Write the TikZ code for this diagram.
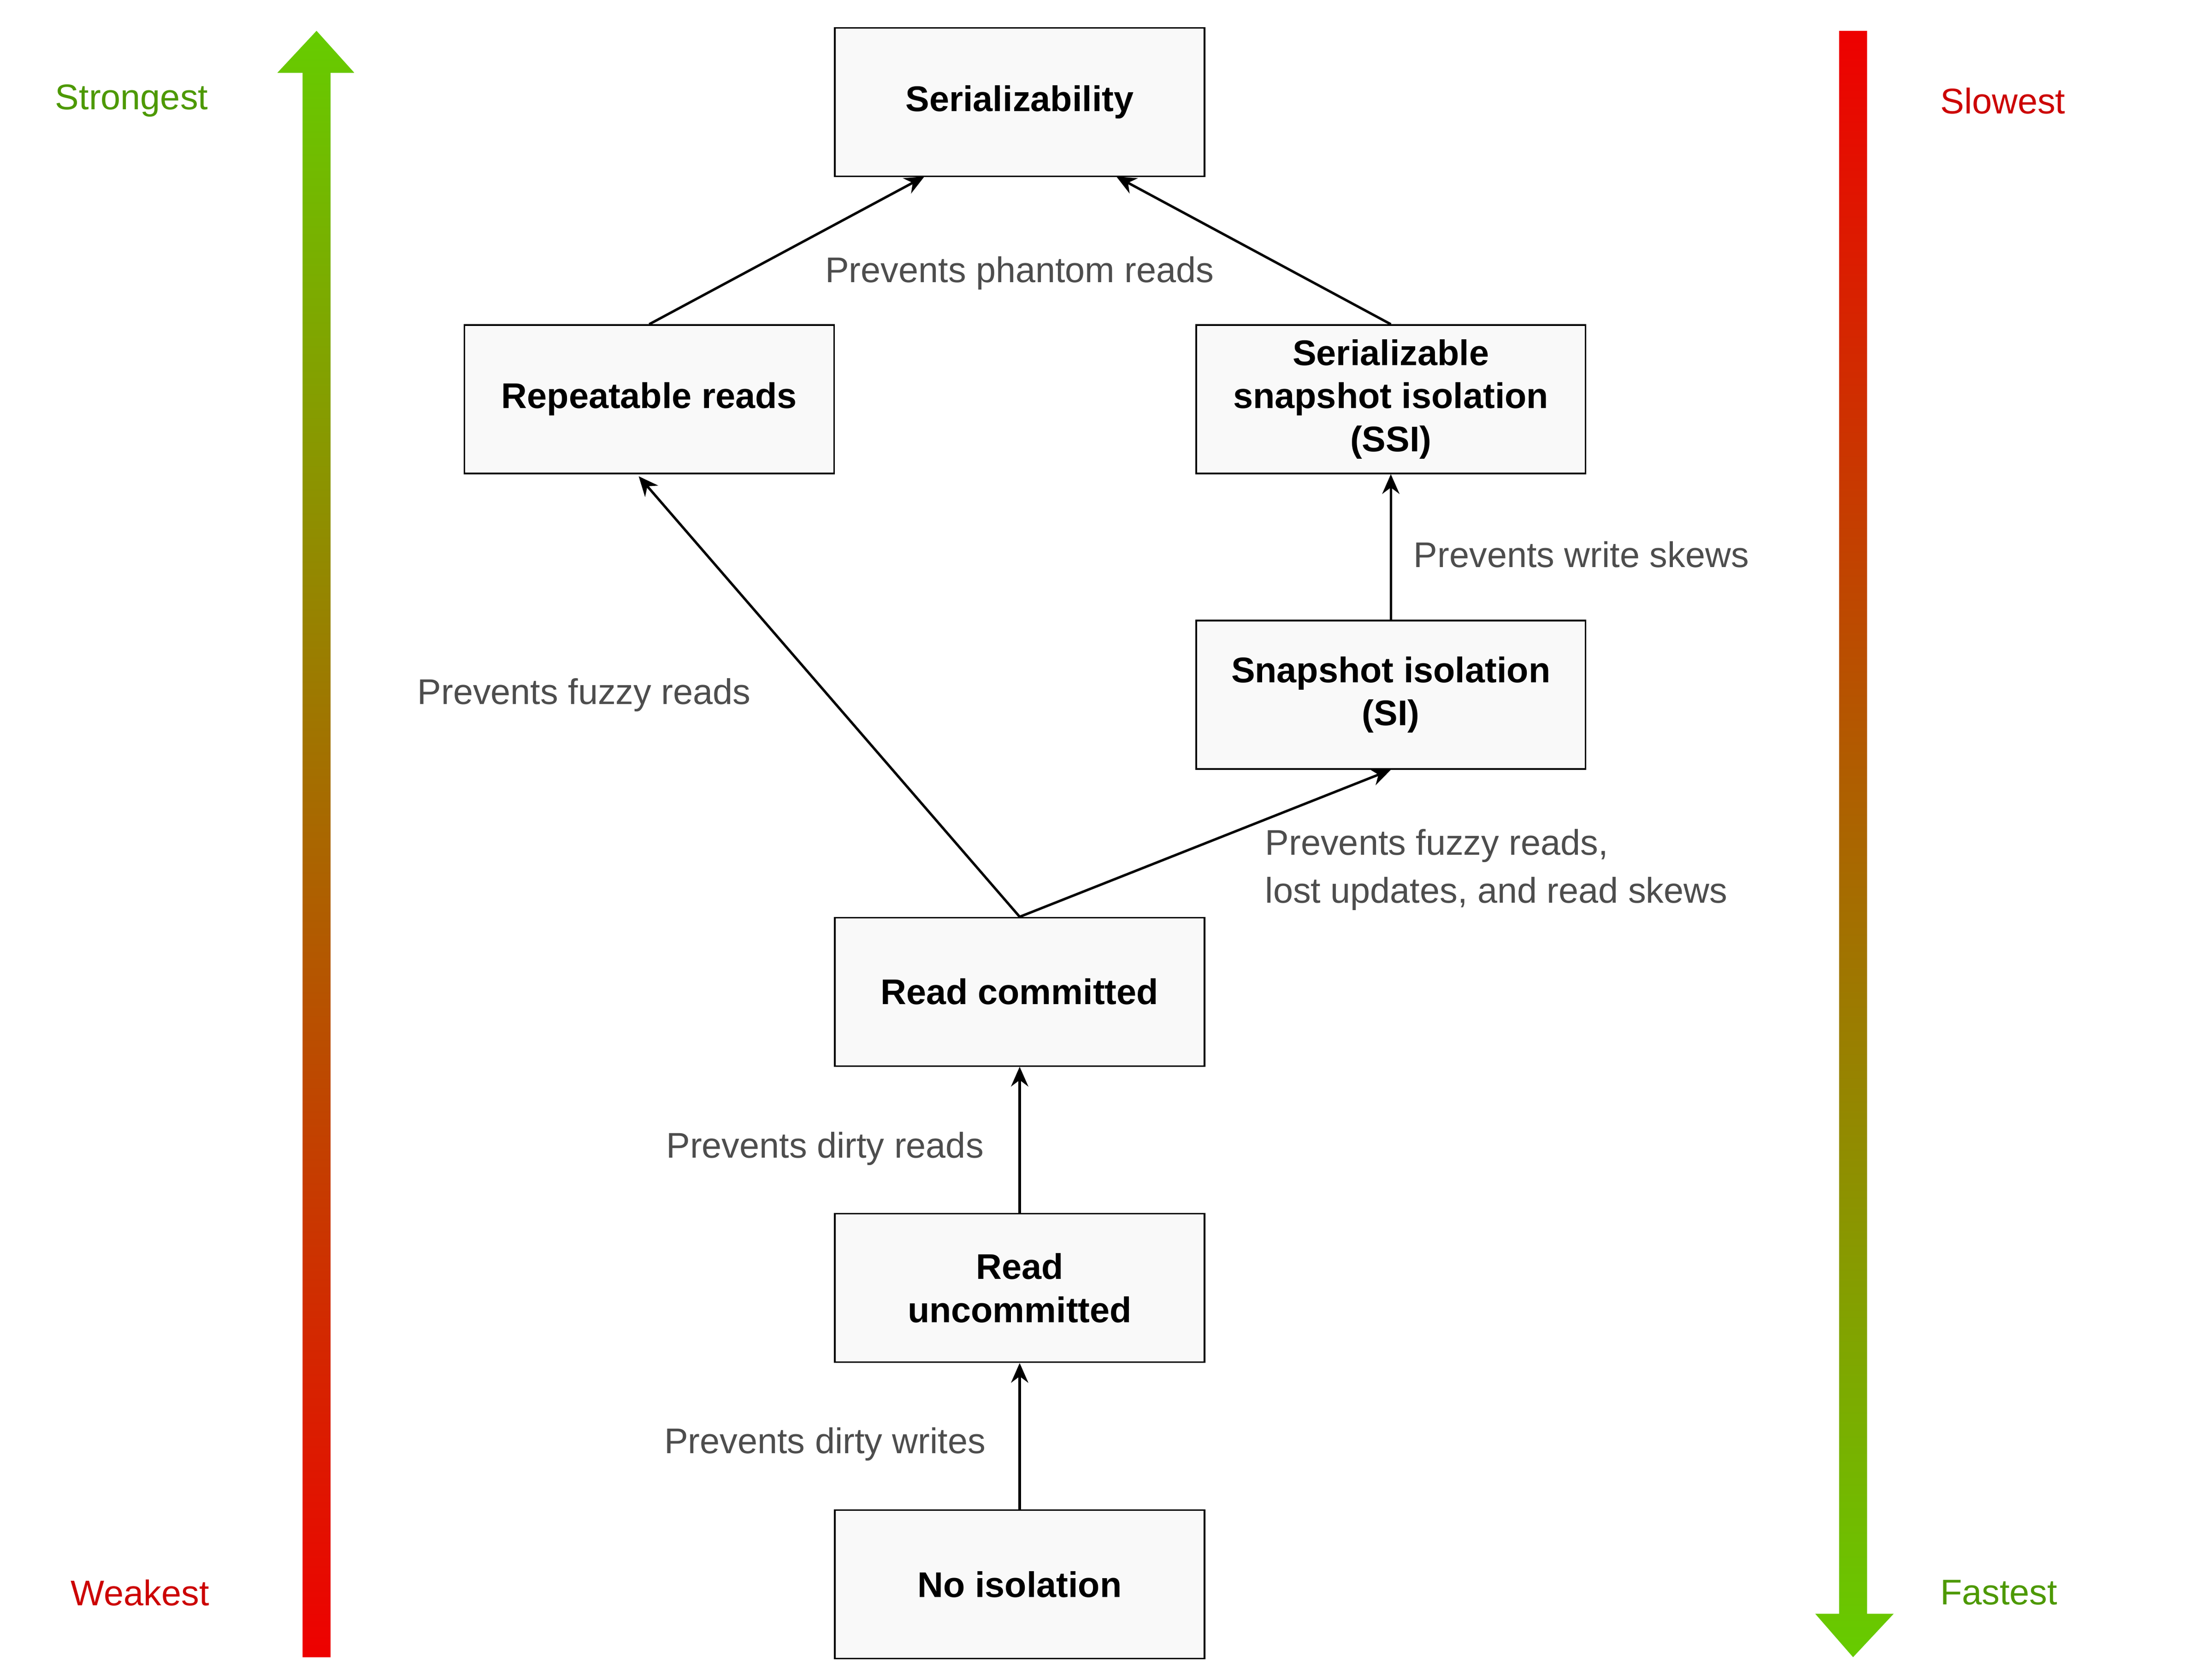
\documentclass[tikz,border=0pt]{standalone}
\usepackage{fontspec}
\setmainfont{Liberation Sans}
\usetikzlibrary{arrows.meta}
\definecolor{gr}{HTML}{66CC00}
\definecolor{rd}{HTML}{EE0000}
\definecolor{tgr}{HTML}{4D9900}
\definecolor{trd}{HTML}{CC0000}
\definecolor{lbl}{HTML}{4D4D4D}
\definecolor{bx}{HTML}{F9F9F9}
\begin{document}
\begin{tikzpicture}[x=0.02cm,y=-0.02cm,
  box/.style={draw,fill=bx,line width=0.6pt,minimum width=5.28cm,minimum height=2.12cm,align=center,font=\fontsize{14.5}{17.5}\selectfont\bfseries},
  lab/.style={text=lbl,font=\fontsize{14.5}{17.5}\selectfont,inner sep=0pt},
  side/.style={font=\fontsize{14.5}{17.5}\selectfont,inner sep=0pt},
  arr/.style={-{Stealth[length=8pt,width=7pt]},line width=1pt}]
\useasboundingbox (0,0) rectangle (1560,1199);
\shade[top color=gr,bottom color=rd] (216,1183) -- (236,1183) -- (236,52) -- (253,52) -- (226,22) -- (198,52) -- (216,52) -- cycle;
\shade[top color=rd,bottom color=gr] (1313,22) -- (1333,22) -- (1333,1152) -- (1352,1152) -- (1323,1183) -- (1296,1152) -- (1313,1152) -- cycle;
\node[box] (ser) at (728,73) {Serializability};
\node[box] (rr) at (463.5,285) {Repeatable reads};
\node[box,minimum width=5.56cm] (ssi) at (993,285) {Serializable\\snapshot isolation\\(SSI)};
\node[box,minimum width=5.56cm] (si) at (993,496) {Snapshot isolation\\(SI)};
\node[box] (rc) at (728,708) {Read committed};
\node[box] (ru) at (728,919.5) {Read\\uncommitted};
\node[box] (ni) at (728,1131) {No isolation};
\coordinate (serL) at (660,126);
\coordinate (serR) at (797,126);
\coordinate (rrB) at (456,340);
\draw[arr] (rr.north) -- (serL);
\draw[arr] (ssi.north) -- (serR);
\draw[arr] (si.north) -- (ssi.south);
\draw[arr] (rc.north) -- (rrB);
\draw[arr] (rc.north) -- (si.south);
\draw[arr] (ru.north) -- (rc.south);
\draw[arr] (ni.north) -- (ru.south);
\node[lab] (l1) at (728,195) {Prevents phantom reads};
\node[lab,anchor=west] (l2) at (1009,396) {Prevents write skews};
\node[lab] (l3) at (417,496) {Prevents fuzzy reads};
\node[lab,anchor=west,align=left] (l4) at (903,621) {Prevents fuzzy reads,\\[2pt]lost updates, and read skews};
\node[lab] (l5) at (589,820) {Prevents dirty reads};
\node[lab] (l6) at (589,1031) {Prevents dirty writes};
\node[side,text=tgr] (s1) at (94,72) {Strongest};
\node[side,text=trd] (s2) at (100,1137) {Weakest};
\node[side,text=trd] (s3) at (1430,72) {Slowest};
\node[side,text=tgr] (s4) at (1427,1137) {Fastest};
\end{tikzpicture}
\end{document}
